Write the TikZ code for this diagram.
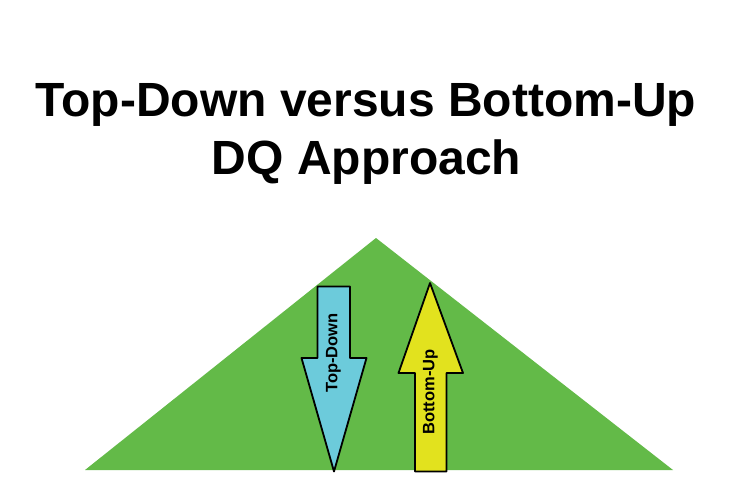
\documentclass[tikz,border=0pt]{standalone}
\usepackage{fontspec}
\setmainfont{Liberation Sans}
\definecolor{pyrgreen}{RGB}{99,186,72}
\definecolor{tdblue}{RGB}{108,203,219}
\definecolor{buyellow}{RGB}{226,226,30}
\begin{document}
\begin{tikzpicture}[x=1pt,y=-1pt,
  arrowshape/.style={draw=black,line width=1.8pt,line join=round},
  lbl/.style={font=\bfseries\fontsize{16.5}{19}\selectfont,rotate=90,inner sep=0pt},
  title/.style={font=\bfseries\fontsize{48}{56}\selectfont,align=center,inner sep=0pt}]
\useasboundingbox (0,0) rectangle (750,500);
\fill[white] (0,0) rectangle (750,500);
% title
\node[title,anchor=base] (t1) at (366,117) {Top-Down versus Bottom-Up};
\node[title,anchor=base] (t2) at (366.5,175) {DQ Approach};
% pyramid
\fill[pyrgreen] (85,470) coordinate (pl) -- (376,238) coordinate (pa) -- (673,470) coordinate (pr) -- cycle;
% top-down arrow
\filldraw[arrowshape,fill=tdblue] (317.5,286.5) -- (350,286.5) -- (350,358) -- (366.5,358) -- (334,471.5) -- (301.5,358) -- (317.5,358) -- cycle;
\node[lbl] (td) at (333.5,353) {Top-Down};
% bottom-up arrow
\filldraw[arrowshape,fill=buyellow] (430,283) -- (463,373) -- (446.5,373) -- (446.5,471.5) -- (415,471.5) -- (415,373) -- (398.5,373) -- cycle;
\node[lbl] (bu) at (430.5,392) {Bottom-Up};
\end{tikzpicture}
\end{document}
